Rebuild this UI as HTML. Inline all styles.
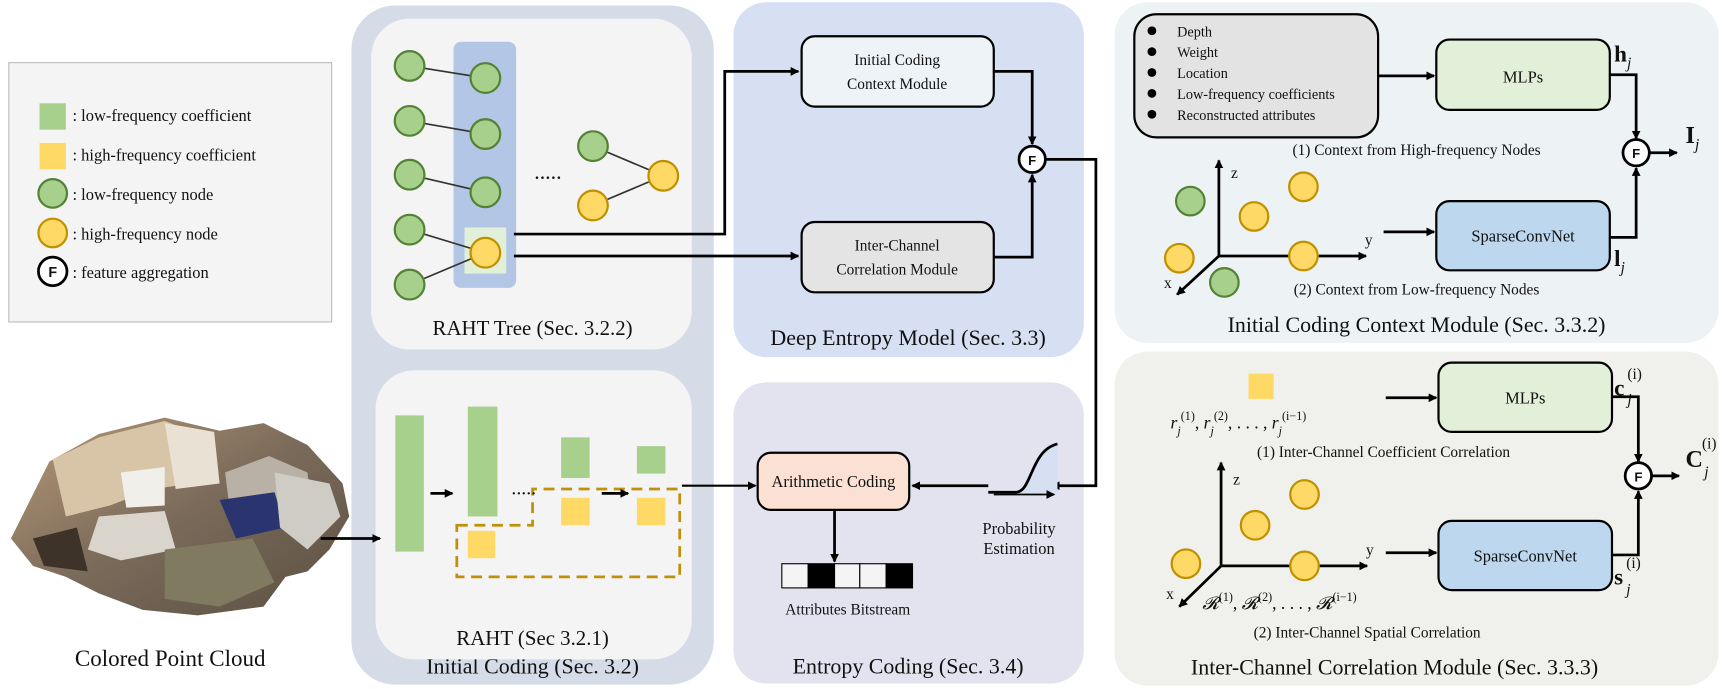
<!DOCTYPE html>
<html><head><meta charset="utf-8"><style>
html,body{margin:0;padding:0;background:#fff;}
svg{display:block;}
text{font-family:"Liberation Serif",serif;fill:#111;}
</style></head><body>
<svg width="1724" height="689" viewBox="0 0 1570 627" preserveAspectRatio="none" xmlns="http://www.w3.org/2000/svg">
<defs>
<marker id="ah" markerWidth="8" markerHeight="8" refX="7" refY="4" orient="auto" markerUnits="userSpaceOnUse"><path d="M0,0 L8,4 L0,8 z" fill="#000"/></marker>
<linearGradient id="pc" x1="0" y1="0" x2="1" y2="1"><stop offset="0" stop-color="#b89a78"/><stop offset="0.5" stop-color="#7a6a5a"/><stop offset="1" stop-color="#5b5040"/></linearGradient>
</defs>
<rect width="1570" height="627" fill="#fff"/>

<!-- Legend -->
<rect x="8" y="57" width="294" height="236" fill="#f4f4f4" stroke="#bbb" stroke-width="1"/>
<rect x="36" y="94" width="24" height="24" fill="#a8d08d"/>
<text x="66" y="110" font-size="15">: low-frequency coefficient</text>
<rect x="36" y="130" width="24" height="24" fill="#ffd966"/>
<text x="66" y="146" font-size="15">: high-frequency coefficient</text>
<circle cx="48" cy="176" r="13" fill="#a8d08d" stroke="#548235" stroke-width="2"/>
<text x="66" y="182" font-size="15">: low-frequency node</text>
<circle cx="48" cy="212" r="13" fill="#ffd966" stroke="#bf9000" stroke-width="2"/>
<text x="66" y="218" font-size="15">: high-frequency node</text>
<circle cx="48" cy="247" r="13" fill="#fff" stroke="#000" stroke-width="2.5"/>
<text x="48" y="252" font-size="13" font-weight="bold" text-anchor="middle" style="font-family:'Liberation Sans',sans-serif">F</text>
<text x="66" y="253" font-size="15">: feature aggregation</text>

<!-- Point cloud approximation -->
<g>
<polygon points="20,470 45,420 90,395 150,380 200,392 240,385 280,405 312,440 318,470 300,500 280,520 260,525 240,552 180,560 130,555 90,540 60,525 30,515 10,490" fill="url(#pc)"/>
<polygon points="48,418 90,398 150,383 180,395 175,440 140,445 100,460 60,470" fill="#d8c4a6"/>
<polygon points="150,385 195,393 200,440 160,445" fill="#e9e2d4"/>
<polygon points="110,430 150,425 150,460 115,462" fill="#f1efe9"/>
<polygon points="205,430 245,415 280,430 285,470 250,480 210,470" fill="#b9b0a6"/>
<polygon points="200,455 250,448 260,480 215,490" fill="#2a3570"/>
<polygon points="90,470 150,465 160,500 110,510 80,500" fill="#d9d4cc"/>
<polygon points="150,500 230,490 250,530 200,552 150,545" fill="#7f7a60"/>
<polygon points="30,490 70,480 80,520 40,515" fill="#3e3328"/>
<polygon points="250,430 300,440 310,470 280,500 255,480" fill="#cfcbc5"/>
</g>
<text x="155" y="606" font-size="21" text-anchor="middle">Colored Point Cloud</text>

<!-- Initial Coding -->
<rect x="320" y="5" width="330" height="618" rx="40" fill="#d5dce8"/>
<text x="485" y="613" font-size="20" text-anchor="middle">Initial Coding (Sec. 3.2)</text>
<rect x="338" y="17" width="292" height="301" rx="35" fill="#f4f4f4"/>
<text x="485" y="305" font-size="19" text-anchor="middle">RAHT Tree (Sec. 3.2.2)</text>
<rect x="413" y="38" width="57" height="224" rx="7" fill="#b3c6e6"/>
<rect x="423" y="207" width="38" height="42" fill="#e2efd9"/>
<g stroke="#333" stroke-width="1.5">
<line x1="373" y1="60" x2="442" y2="71"/><line x1="373" y1="110" x2="442" y2="122"/>
<line x1="373" y1="159" x2="442" y2="175"/><line x1="373" y1="209" x2="442" y2="230"/>
<line x1="373" y1="259" x2="442" y2="230"/>
<line x1="540" y1="133" x2="604" y2="160"/><line x1="540" y1="187" x2="604" y2="160"/>
</g>
<g fill="#a8d08d" stroke="#548235" stroke-width="2">
<circle cx="373" cy="60" r="13.5"/><circle cx="373" cy="110" r="13.5"/><circle cx="373" cy="159" r="13.5"/><circle cx="373" cy="209" r="13.5"/><circle cx="373" cy="259" r="13.5"/>
<circle cx="442" cy="71" r="13.5"/><circle cx="442" cy="122" r="13.5"/><circle cx="442" cy="175" r="13.5"/>
<circle cx="540" cy="133" r="13.5"/>
</g>
<g fill="#ffd966" stroke="#bf9000" stroke-width="2">
<circle cx="442" cy="230" r="13.5"/><circle cx="540" cy="187" r="13.5"/><circle cx="604" cy="160" r="13.5"/>
</g>
<text x="499" y="163" font-size="20" text-anchor="middle">.....</text>

<rect x="342" y="337" width="288" height="263" rx="35" fill="#f4f4f4"/>
<text x="485" y="587" font-size="19" text-anchor="middle">RAHT (Sec 3.2.1)</text>
<rect x="360" y="378" width="26" height="124" fill="#a8d08d"/>
<rect x="426" y="370" width="27" height="100" fill="#a8d08d"/>
<rect x="511" y="398" width="26" height="37" fill="#a8d08d"/>
<rect x="580" y="406" width="26" height="25" fill="#a8d08d"/>
<rect x="426" y="483" width="25" height="25" fill="#ffd966"/>
<rect x="511" y="453" width="26" height="25" fill="#ffd966"/>
<rect x="580" y="453" width="26" height="25" fill="#ffd966"/>
<polygon points="416,478 485,478 485,445 619,445 619,525 416,525" fill="none" stroke="#c0900a" stroke-width="2.5" stroke-dasharray="10,6"/>
<line x1="392" y1="449" x2="412" y2="449" stroke="#000" stroke-width="2.5" marker-end="url(#ah)"/>
<line x1="548" y1="449" x2="572" y2="449" stroke="#000" stroke-width="2.5" marker-end="url(#ah)"/>
<text x="477" y="450" font-size="18" text-anchor="middle">.....</text>

<!-- Deep Entropy Model -->
<rect x="668" y="2" width="319" height="323" rx="30" fill="#d6e0f2"/>
<text x="827" y="314" font-size="20" text-anchor="middle">Deep Entropy Model (Sec. 3.3)</text>
<rect x="730" y="33" width="175" height="64" rx="12" fill="#eef3f7" stroke="#000" stroke-width="2"/>
<text x="817" y="59" font-size="14" text-anchor="middle">Initial Coding</text>
<text x="817" y="81" font-size="14" text-anchor="middle">Context Module</text>
<rect x="730" y="202" width="175" height="64" rx="12" fill="#e4e4e4" stroke="#000" stroke-width="2"/>
<text x="817" y="228" font-size="14" text-anchor="middle">Inter-Channel</text>
<text x="817" y="250" font-size="14" text-anchor="middle">Correlation Module</text>
<polyline points="468,213 660,213 660,65 727,65" fill="none" stroke="#000" stroke-width="2.5" marker-end="url(#ah)"/>
<polyline points="468,233 727,233" fill="none" stroke="#000" stroke-width="2.5" marker-end="url(#ah)"/>
<polyline points="905,65 940,65 940,131" fill="none" stroke="#000" stroke-width="2.5" marker-end="url(#ah)"/>
<polyline points="905,234 940,234 940,159" fill="none" stroke="#000" stroke-width="2.5" marker-end="url(#ah)"/>
<circle cx="940" cy="145" r="12" fill="#fff" stroke="#000" stroke-width="2.5"/>
<text x="940" y="150" font-size="12" font-weight="bold" text-anchor="middle" style="font-family:'Liberation Sans',sans-serif">F</text>

<!-- Entropy Coding -->
<rect x="668" y="348" width="319" height="274" rx="30" fill="#e2e3ee"/>
<text x="827" y="613" font-size="20" text-anchor="middle">Entropy Coding (Sec. 3.4)</text>
<polyline points="952,145 998,145 998,442 958,442" fill="none" stroke="#000" stroke-width="2.5" marker-end="url(#ah)"/>
<rect x="690" y="412" width="138" height="52" rx="12" fill="#fbe1d3" stroke="#000" stroke-width="2"/>
<text x="759" y="443" font-size="15" text-anchor="middle">Arithmetic Coding</text>
<line x1="900" y1="442" x2="831" y2="442" stroke="#000" stroke-width="2.5" marker-end="url(#ah)"/>
<line x1="760" y1="464" x2="760" y2="511" stroke="#000" stroke-width="2.5" marker-end="url(#ah)"/>
<g stroke="#000" stroke-width="1">
<rect x="712" y="513" width="24" height="22" fill="#f4f4f4"/><rect x="736" y="513" width="24" height="22" fill="#000"/>
<rect x="760" y="513" width="23" height="22" fill="#f4f4f4"/><rect x="783" y="513" width="24" height="22" fill="#f4f4f4"/>
<rect x="807" y="513" width="24" height="22" fill="#000"/>
</g>
<text x="772" y="559" font-size="14" text-anchor="middle">Attributes Bitstream</text>
<path d="M900,448 L925,448 C940,448 940,412 955,405 L963,403 L963,450 L900,450 Z" fill="#d6e0f2"/>
<path d="M900,448 L925,448 C940,448 938,410 963,404" fill="none" stroke="#000" stroke-width="2.5"/>
<line x1="905" y1="450" x2="960" y2="450" stroke="#000" stroke-width="1.5" marker-end="url(#ah)"/>
<text x="928" y="486" font-size="15" text-anchor="middle">Probability</text>
<text x="928" y="504" font-size="15" text-anchor="middle">Estimation</text>

<!-- Initial Coding Context Module panel -->
<rect x="1015" y="2" width="550" height="310" rx="30" fill="#edf2f4"/>
<text x="1290" y="302" font-size="20" text-anchor="middle">Initial Coding Context Module (Sec. 3.3.2)</text>
<rect x="1033" y="13" width="222" height="112" rx="20" fill="#e3e3e3" stroke="#000" stroke-width="2"/>
<g font-size="13">
<circle cx="1049" cy="28" r="4" fill="#000"/><text x="1072" y="33">Depth</text>
<circle cx="1049" cy="47" r="4" fill="#000"/><text x="1072" y="52">Weight</text>
<circle cx="1049" cy="66" r="4" fill="#000"/><text x="1072" y="71">Location</text>
<circle cx="1049" cy="85" r="4" fill="#000"/><text x="1072" y="90">Low-frequency coefficients</text>
<circle cx="1049" cy="104" r="4" fill="#000"/><text x="1072" y="109">Reconstructed attributes</text>
</g>
<line x1="1255" y1="69" x2="1306" y2="69" stroke="#000" stroke-width="2.5" marker-end="url(#ah)"/>
<rect x="1308" y="36" width="158" height="64" rx="12" fill="#e2efd9" stroke="#000" stroke-width="2"/>
<text x="1387" y="75" font-size="15" text-anchor="middle">MLPs</text>
<text x="1470" y="56" font-size="21" font-weight="bold">h<tspan font-size="14" font-style="italic" font-weight="normal" dy="6">j</tspan></text>
<polyline points="1466,68 1490,68 1490,126" fill="none" stroke="#000" stroke-width="2.5" marker-end="url(#ah)"/>
<polyline points="1466,216 1490,216 1490,153" fill="none" stroke="#000" stroke-width="2.5" marker-end="url(#ah)"/>
<circle cx="1490" cy="139" r="12" fill="#fff" stroke="#000" stroke-width="2.5"/>
<text x="1490" y="144" font-size="12" font-weight="bold" text-anchor="middle" style="font-family:'Liberation Sans',sans-serif">F</text>
<line x1="1502" y1="139" x2="1527" y2="139" stroke="#000" stroke-width="2.5" marker-end="url(#ah)"/>
<text x="1535" y="130" font-size="22" font-weight="bold">I<tspan font-size="14" font-style="italic" font-weight="normal" dy="6">j</tspan></text>
<text x="1290" y="141" font-size="14" text-anchor="middle">(1) Context from High-frequency Nodes</text>
<g stroke="#000" stroke-width="2.5" fill="none">
<line x1="1110" y1="233" x2="1110" y2="146" marker-end="url(#ah)"/>
<line x1="1110" y1="233" x2="1244" y2="233" marker-end="url(#ah)"/>
<line x1="1110" y1="233" x2="1072" y2="268" marker-end="url(#ah)"/>
</g>
<text x="1121" y="162" font-size="14">z</text>
<text x="1243" y="223" font-size="14">y</text>
<text x="1060" y="262" font-size="14">x</text>
<g fill="#a8d08d" stroke="#548235" stroke-width="2"><circle cx="1084" cy="183" r="13"/><circle cx="1115" cy="257" r="13"/></g>
<g fill="#ffd966" stroke="#bf9000" stroke-width="2"><circle cx="1142" cy="197" r="13"/><circle cx="1187" cy="170" r="13"/><circle cx="1074" cy="235" r="13"/><circle cx="1187" cy="233" r="13"/></g>
<line x1="1260" y1="211" x2="1306" y2="211" stroke="#000" stroke-width="2.5" marker-end="url(#ah)"/>
<rect x="1308" y="183" width="158" height="63" rx="12" fill="#bdd7ee" stroke="#000" stroke-width="2"/>
<text x="1387" y="220" font-size="15" text-anchor="middle">SparseConvNet</text>
<text x="1470" y="242" font-size="21" font-weight="bold">l<tspan font-size="14" font-style="italic" font-weight="normal" dy="6">j</tspan></text>
<text x="1290" y="268" font-size="14" text-anchor="middle">(2) Context from Low-frequency Nodes</text>

<!-- Inter-Channel Correlation Module panel -->
<rect x="1015" y="320" width="550" height="304" rx="30" fill="#f0f1ec"/>
<text x="1270" y="614" font-size="20" text-anchor="middle">Inter-Channel Correlation Module (Sec. 3.3.3)</text>
<rect x="1137" y="340" width="23" height="23" fill="#ffd966"/>
<text x="1066" y="390" font-size="16" font-style="italic">r<tspan font-size="11" dy="6">j</tspan><tspan font-size="11" font-style="normal" dy="-14">(1)</tspan><tspan dy="8" font-style="normal">, </tspan>r<tspan font-size="11" dy="6">j</tspan><tspan font-size="11" font-style="normal" dy="-14">(2)</tspan><tspan dy="8" font-style="normal">, . . . , </tspan>r<tspan font-size="11" dy="6">j</tspan><tspan font-size="11" font-style="normal" dy="-14">(i−1)</tspan></text>
<line x1="1262" y1="362" x2="1308" y2="362" stroke="#000" stroke-width="2.5" marker-end="url(#ah)"/>
<rect x="1310" y="330" width="158" height="63" rx="12" fill="#e2efd9" stroke="#000" stroke-width="2"/>
<text x="1389" y="367" font-size="15" text-anchor="middle">MLPs</text>
<text x="1470" y="360" font-size="21" font-weight="bold">c</text>
<text x="1482" y="368" font-size="14" font-style="italic">j</text>
<text x="1482" y="345" font-size="14">(i)</text>
<text x="1260" y="416" font-size="14" text-anchor="middle">(1) Inter-Channel Coefficient Correlation</text>
<polyline points="1468,361 1492,361 1492,420" fill="none" stroke="#000" stroke-width="2.5" marker-end="url(#ah)"/>
<polyline points="1468,505 1492,505 1492,447" fill="none" stroke="#000" stroke-width="2.5" marker-end="url(#ah)"/>
<circle cx="1492" cy="433" r="12" fill="#fff" stroke="#000" stroke-width="2.5"/>
<text x="1492" y="438" font-size="12" font-weight="bold" text-anchor="middle" style="font-family:'Liberation Sans',sans-serif">F</text>
<line x1="1504" y1="433" x2="1529" y2="433" stroke="#000" stroke-width="2.5" marker-end="url(#ah)"/>
<text x="1535" y="425" font-size="22" font-weight="bold">C</text>
<text x="1552" y="434" font-size="14" font-style="italic">j</text>
<text x="1550" y="408" font-size="14">(i)</text>
<g stroke="#000" stroke-width="2.5" fill="none">
<line x1="1112" y1="515" x2="1112" y2="421" marker-end="url(#ah)"/>
<line x1="1112" y1="515" x2="1245" y2="515" marker-end="url(#ah)"/>
<line x1="1112" y1="515" x2="1074" y2="552" marker-end="url(#ah)"/>
</g>
<text x="1123" y="441" font-size="14">z</text>
<text x="1244" y="505" font-size="14">y</text>
<text x="1062" y="545" font-size="14">x</text>
<g fill="#ffd966" stroke="#bf9000" stroke-width="2"><circle cx="1143" cy="478" r="13"/><circle cx="1188" cy="450" r="13"/><circle cx="1080" cy="513" r="13"/><circle cx="1188" cy="515" r="13"/></g>
<text x="1095" y="554" font-size="16" font-style="italic">𝓡<tspan font-size="11" font-style="normal" dy="-7">(1)</tspan><tspan dy="7" font-style="normal">, </tspan>𝓡<tspan font-size="11" font-style="normal" dy="-7">(2)</tspan><tspan dy="7" font-style="normal">, . . . , </tspan>𝓡<tspan font-size="11" font-style="normal" dy="-7">(i−1)</tspan></text>
<line x1="1262" y1="503" x2="1308" y2="503" stroke="#000" stroke-width="2.5" marker-end="url(#ah)"/>
<rect x="1310" y="474" width="158" height="63" rx="12" fill="#bdd7ee" stroke="#000" stroke-width="2"/>
<text x="1389" y="511" font-size="15" text-anchor="middle">SparseConvNet</text>
<text x="1470" y="532" font-size="21" font-weight="bold">s</text>
<text x="1481" y="541" font-size="14" font-style="italic">j</text>
<text x="1481" y="517" font-size="14">(i)</text>
<text x="1245" y="580" font-size="14" text-anchor="middle">(2) Inter-Channel Spatial Correlation</text>

<!-- connectors drawn on top -->
<line x1="292" y1="490" x2="346" y2="490" stroke="#000" stroke-width="2.5" marker-end="url(#ah)"/>
<line x1="621" y1="442" x2="688" y2="442" stroke="#000" stroke-width="2" marker-end="url(#ah)"/>
</svg>
</body></html>
